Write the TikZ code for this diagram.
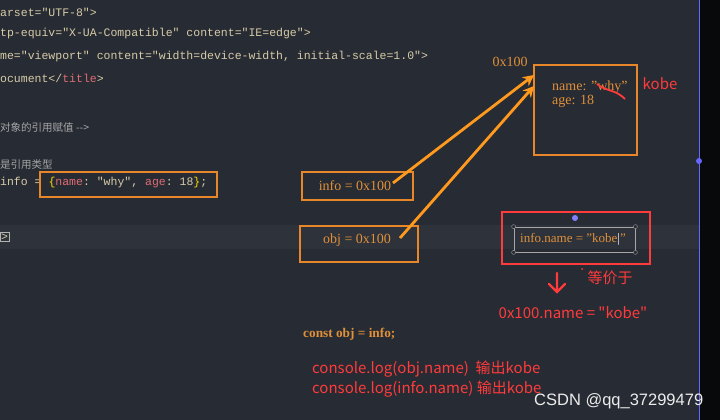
\documentclass[tikz,border=0pt]{standalone}
\usetikzlibrary{arrows.meta}
\usepackage{fontspec}
\setmainfont{Liberation Serif}
\setmonofont{Liberation Mono}
\newfontfamily\cjk{Noto Sans CJK SC}
\newcommand\qq{\symbol{34}}
\begin{document}
\begin{tikzpicture}[x=1pt,y=-1pt,
  code/.style={anchor=west,inner sep=0pt,font=\ttfamily\fontsize{11.5}{12}\selectfont,text=codefg},
  cmt/.style={anchor=west,inner sep=0pt,font=\cjk\itshape\fontsize{10.5}{12}\selectfont,text=gray!70},
  obox/.style={draw=boxor,line width=1.6pt},
  otext/.style={text=textor,font=\fontsize{14}{16}\selectfont,inner sep=0pt},
  rtext/.style={text=redc,font=\cjk\fontsize{15}{17}\selectfont,inner sep=0pt},
  arr/.style={draw=arrowor,line width=2.8pt,-{Stealth[length=11pt,width=11pt]}}]
\definecolor{bg}{HTML}{272B33}
\definecolor{hl}{HTML}{2D323B}
\definecolor{codefg}{HTML}{D7CBA8}
\definecolor{tagr}{HTML}{E06C75}
\definecolor{boxor}{HTML}{E8862A}
\definecolor{arrowor}{HTML}{FF9A1F}
\definecolor{textor}{HTML}{E0903A}
\definecolor{redc}{HTML}{FF3B3B}
\fill[bg] (0,0) rectangle (720,420);
\useasboundingbox (0,0) rectangle (720,420);
\fill[hl] (0,225) rectangle (699,249);
\fill[black!80!bg] (700,0) rectangle (720,420);
\draw[blue!60!white,line width=1pt] (699,0) -- (699,420);
\fill[blue!60!white] (699,161) circle (3pt);
% code
\node[code] (l1) at (0,12) {arset="UTF-8">};
\node[code] (l2) at (0,34) {tp-equiv="X-UA-Compatible" content="IE=edge">};
\node[code] (l3) at (0,57) {me="viewport" content="width=device-width, initial-scale=1.0">};
\node[code] (l4) at (0,78) {ocument</\textcolor{tagr}{title}>};
\node[cmt] (c1) at (0,128) {对象的引用赋值 -->};
\node[cmt] (c2) at (0,165) {是引用类型};
\node[code] (l5) at (0,183) {info = {\textcolor{yellow!80!orange}{\{}\textcolor{tagr}{name}: "why", \textcolor{tagr}{age}: 18\textcolor{yellow!80!orange}{\}};}};
\node[code,draw=gray!60,inner sep=1pt] (l6) at (0,237) {>};
\node[obox,minimum width=177pt,minimum height=25pt] (objlit) at (128.5,184.5) {};
% memory
\node[obox,minimum width=103pt,minimum height=90pt] (mem) at (585.5,110) {};
\node[otext] (addr) at (510,62) {0x100};
\node[otext,anchor=west] (nm) at (552,87) {name: \qq why\qq};
\node[otext,anchor=west] (ag) at (552,101) {age: 18};
\draw[redc,line width=1.8pt] (597,84) .. controls (607,92) and (615,89) .. (625,99);
\node[rtext] (kobe) at (660,84) {kobe};
% variables
\node[obox,minimum width=111pt,minimum height=28pt] (vinfo) at (357.5,186) {};
\node[otext] (tinfo) at (355,186) {info = 0x100};
\node[obox,minimum width=118pt,minimum height=36pt] (vobj) at (359,244) {};
\node[otext] (tobj) at (357,240) {obj = 0x100};
\coordinate (s1) at (393,183);
\coordinate (s2) at (400,238);
\coordinate (e1) at (534,75);
\coordinate (e2) at (534,86);
\draw[arr] (s1) -- (e1);
\draw[arr] (s2) -- (e2);
% red box
\node[draw=redc,line width=1.6pt,minimum width=148pt,minimum height=52pt] (rbox) at (576,238) {};
\node[draw=gray!70,line width=0.8pt,minimum width=121pt,minimum height=25pt] (sel) at (574.5,239.5) {};
\foreach \c in {north west,north east,south west,south east}
  \draw[gray!80,fill=bg] (sel.\c) circle (2pt);
\fill[blue!50!white] (575,218) circle (3pt);
\node[otext,font=\fontsize{13}{15}\selectfont] (assign) at (573,239) {info.name = \qq kobe\textcolor{white}{|}\qq};
\fill[redc] (582,269) circle (1pt);
\node[rtext] (eq) at (610,278) {等价于};
\draw[redc,line width=2.4pt,line cap=round] (557,273) -- (557,292) (549,284) -- (557,292) -- (565,284);
\node[rtext] (eq2) at (573,313) {0x100.name = "kobe"};
\node[otext,font=\bfseries\fontsize{13.3}{15}\selectfont,anchor=west] (cst) at (303,334) {const obj = info;};
\node[rtext,anchor=west] (log1) at (312,369) {console.log(obj.name)\ \ 输出kobe};
\node[rtext,anchor=west] (log2) at (312,389) {console.log(info.name) 输出kobe};
\node[anchor=west,inner sep=0pt,text=white!85!gray,font=\fontspec{Liberation Sans}\fontsize{16.5}{18}\selectfont] (wm) at (534,401) {CSDN @qq\_37299479};
\end{tikzpicture}
\end{document}
